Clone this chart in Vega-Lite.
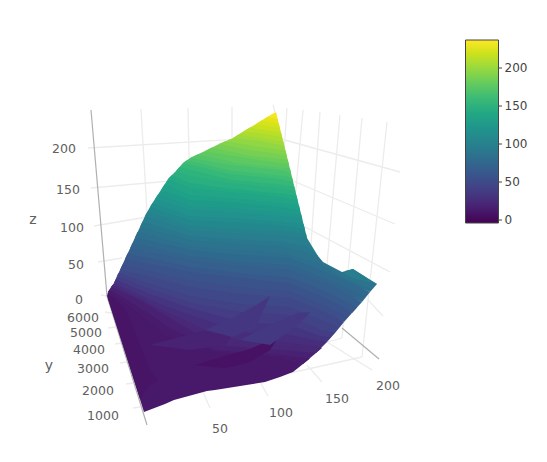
{"$schema":"https://vega.github.io/schema/vega-lite/v6.json","autosize":{"type":"fit","contains":"padding"},"width":547,"height":462,"padding":0,"background":"white","config":{"view":{"stroke":null}},
"encoding":{"x":{"field":"u","type":"quantitative","scale":{"domain":[0,547],"nice":false,"zero":false},"axis":null},"y":{"field":"v","type":"quantitative","scale":{"domain":[0,462],"nice":false,"zero":false,"reverse":true},"axis":null}},
"layer":[
{"data":{"values":[
{"u":88,"v":148,"u2":274,"v2":137},{"u":91,"v":188,"u2":272,"v2":172},{"u":94,"v":226,"u2":147,"v2":217},{"u":98,"v":262,"u2":122,"v2":258},{"u":101,"v":295,"u2":107,"v2":296},
{"u":274,"v":137,"u2":400,"v2":172},{"u":272,"v":172,"u2":395,"v2":224},{"u":290,"v":219,"u2":390,"v2":272},
{"u":141,"v":109,"u2":147,"v2":212},{"u":188,"v":108,"u2":189,"v2":158},{"u":232,"v":107,"u2":232,"v2":138},{"u":273,"v":105,"u2":275,"v2":112},
{"u":287,"v":108,"u2":282,"v2":180},{"u":303,"v":110,"u2":295,"v2":200},{"u":320,"v":112,"u2":311,"v2":245},{"u":340,"v":115,"u2":327,"v2":265},{"u":362,"v":118,"u2":342,"v2":338},{"u":387,"v":122,"u2":362,"v2":357},
{"u":342,"v":338,"u2":328,"v2":342},{"u":362,"v":357,"u2":290,"v2":373},
{"u":203,"v":392,"u2":210,"v2":408},{"u":260,"v":382,"u2":268,"v2":396},{"u":307,"v":365,"u2":322,"v2":382},{"u":327,"v":342,"u2":372,"v2":370},{"u":368,"v":300,"u2":383,"v2":316},
{"u":105,"v":312,"u2":112,"v2":313},{"u":108,"v":328,"u2":116,"v2":327},{"u":115,"v":344,"u2":122,"v2":343},{"u":120,"v":363,"u2":127,"v2":362},{"u":126,"v":384,"u2":133,"v2":383},{"u":133,"v":408,"u2":140,"v2":407}
]},"mark":{"type":"rule","color":"#ececec","strokeWidth":1.3},"encoding":{"x2":{"field":"u2"},"y2":{"field":"v2"}}},
{"data":{"values":[
{"u":91,"v":110,"u2":107,"v2":296},{"u":107,"v":296,"u2":147,"v2":425},{"u":342,"v":328,"u2":379,"v2":359}
]},"mark":{"type":"rule","color":"#b0b0b0","strokeWidth":1.2},"encoding":{"x2":{"field":"u2"},"y2":{"field":"v2"}}},
{"data":{"values":[
{"k":1,"z":234,"u":267,"v":117,"b":119},{"k":1,"z":234,"u":276,"v":112,"b":121},{"k":1,"z":234,"u":277.7,"v":119,"b":121},
{"k":2,"z":227.5,"u":256,"v":124,"b":124},{"k":2,"z":227.5,"u":267,"v":117,"b":128},{"k":2,"z":227.5,"u":277.7,"v":119,"b":130},{"k":2,"z":227.5,"u":279.9,"v":128,"b":128},
{"k":102,"z":222.5,"u":256,"v":124,"b":124},{"k":102,"z":222.5,"u":261.5,"v":120.5,"b":126},{"k":102,"z":222.5,"u":272,"v":122.5,"b":129},{"k":102,"z":222.5,"u":278.8,"v":123.5,"b":129},{"k":102,"z":222.5,"u":279.9,"v":128,"b":128},
{"k":3,"z":217.5,"u":244,"v":131,"b":131},{"k":3,"z":217.5,"u":256,"v":124,"b":133},{"k":3,"z":217.5,"u":268,"v":126,"b":135},{"k":3,"z":217.5,"u":279.9,"v":128,"b":138},{"k":3,"z":217.5,"u":282.2,"v":137,"b":137},
{"k":103,"z":212.5,"u":244,"v":131,"b":131},{"k":103,"z":212.5,"u":250,"v":127.5,"b":133},{"k":103,"z":212.5,"u":268,"v":130.5,"b":135},{"k":103,"z":212.5,"u":281,"v":132.5,"b":138},{"k":103,"z":212.5,"u":282.2,"v":137,"b":137},
{"k":4,"z":207.5,"u":233,"v":138,"b":138},{"k":4,"z":207.5,"u":244,"v":131,"b":141},{"k":4,"z":207.5,"u":265,"v":134,"b":144},{"k":4,"z":207.5,"u":282.2,"v":137,"b":148},{"k":4,"z":207.5,"u":284.4,"v":146,"b":146},
{"k":104,"z":202.5,"u":233,"v":138,"b":138},{"k":104,"z":202.5,"u":238.5,"v":134.5,"b":141},{"k":104,"z":202.5,"u":265,"v":139,"b":144},{"k":104,"z":202.5,"u":283.3,"v":141.5,"b":148},{"k":104,"z":202.5,"u":284.4,"v":146,"b":146},
{"k":5,"z":197.5,"u":219,"v":144,"b":144},{"k":5,"z":197.5,"u":233,"v":138,"b":148},{"k":5,"z":197.5,"u":260,"v":141,"b":153},{"k":5,"z":197.5,"u":284.4,"v":146,"b":157},{"k":5,"z":197.5,"u":286.6,"v":155,"b":155},
{"k":105,"z":192.5,"u":219,"v":144,"b":144},{"k":105,"z":192.5,"u":226,"v":141,"b":148},{"k":105,"z":192.5,"u":260,"v":147,"b":153},{"k":105,"z":192.5,"u":285.5,"v":150.5,"b":157},{"k":105,"z":192.5,"u":286.6,"v":155,"b":155},
{"k":6,"z":187.5,"u":205,"v":151,"b":151},{"k":6,"z":187.5,"u":219,"v":144,"b":155},{"k":6,"z":187.5,"u":250,"v":150,"b":161},{"k":6,"z":187.5,"u":286.6,"v":155,"b":166},{"k":6,"z":187.5,"u":288.8,"v":164,"b":164},
{"k":106,"z":182.5,"u":205,"v":151,"b":151},{"k":106,"z":182.5,"u":212,"v":147.5,"b":155},{"k":106,"z":182.5,"u":250,"v":155.5,"b":161},{"k":106,"z":182.5,"u":287.7,"v":159.5,"b":166},{"k":106,"z":182.5,"u":288.8,"v":164,"b":164},
{"k":7,"z":177.5,"u":190,"v":158,"b":158},{"k":7,"z":177.5,"u":205,"v":151,"b":163},{"k":7,"z":177.5,"u":240,"v":157,"b":170},{"k":7,"z":177.5,"u":280,"v":163,"b":172},{"k":7,"z":177.5,"u":288.8,"v":164,"b":175},{"k":7,"z":177.5,"u":291,"v":173,"b":173},
{"k":107,"z":172.5,"u":190,"v":158,"b":158},{"k":107,"z":172.5,"u":197.5,"v":154.5,"b":163},{"k":107,"z":172.5,"u":240,"v":163.5,"b":170},{"k":107,"z":172.5,"u":280,"v":167.5,"b":172},{"k":107,"z":172.5,"u":290,"v":168.5,"b":175},{"k":107,"z":172.5,"u":291,"v":173,"b":173},
{"k":8,"z":167.5,"u":183,"v":163,"b":163},{"k":8,"z":167.5,"u":190,"v":158,"b":167},{"k":8,"z":167.5,"u":230,"v":165,"b":176},{"k":8,"z":167.5,"u":280,"v":170,"b":181},{"k":8,"z":167.5,"u":291,"v":173,"b":184},{"k":8,"z":167.5,"u":293.2,"v":182,"b":182},
{"k":108,"z":162.5,"u":183,"v":163,"b":163},{"k":108,"z":162.5,"u":186.5,"v":160.5,"b":167},{"k":108,"z":162.5,"u":230,"v":170.5,"b":176},{"k":108,"z":162.5,"u":280,"v":175.5,"b":181},{"k":108,"z":162.5,"u":292,"v":177.5,"b":184},{"k":108,"z":162.5,"u":293.2,"v":182,"b":182},
{"k":9,"z":157.5,"u":176,"v":171,"b":171},{"k":9,"z":157.5,"u":183,"v":163,"b":175},{"k":9,"z":157.5,"u":230,"v":174,"b":185},{"k":9,"z":157.5,"u":280,"v":179,"b":190},{"k":9,"z":157.5,"u":293.2,"v":182,"b":193},{"k":9,"z":157.5,"u":295.4,"v":191,"b":191},
{"k":109,"z":152.5,"u":176,"v":171,"b":171},{"k":109,"z":152.5,"u":179.5,"v":167,"b":175},{"k":109,"z":152.5,"u":230,"v":179.5,"b":185},{"k":109,"z":152.5,"u":280,"v":184.5,"b":190},{"k":109,"z":152.5,"u":294.3,"v":186.5,"b":193},{"k":109,"z":152.5,"u":295.4,"v":191,"b":191},
{"k":10,"z":147.5,"u":168,"v":179,"b":179},{"k":10,"z":147.5,"u":176,"v":171,"b":182},{"k":10,"z":147.5,"u":190,"v":176,"b":190},{"k":10,"z":147.5,"u":230,"v":183,"b":194},{"k":10,"z":147.5,"u":280,"v":188,"b":199},{"k":10,"z":147.5,"u":295.4,"v":191,"b":202},{"k":10,"z":147.5,"u":297.6,"v":200,"b":200},
{"k":110,"z":142.5,"u":168,"v":179,"b":179},{"k":110,"z":142.5,"u":172,"v":175,"b":182},{"k":110,"z":142.5,"u":190,"v":183,"b":190},{"k":110,"z":142.5,"u":230,"v":188.5,"b":194},{"k":110,"z":142.5,"u":280,"v":193.5,"b":199},{"k":110,"z":142.5,"u":296.5,"v":195.5,"b":202},{"k":110,"z":142.5,"u":297.6,"v":200,"b":200},
{"k":11,"z":137.5,"u":161,"v":190,"b":190},{"k":11,"z":137.5,"u":168,"v":179,"b":194},{"k":11,"z":137.5,"u":190,"v":188,"b":202},{"k":11,"z":137.5,"u":230,"v":192,"b":204},{"k":11,"z":137.5,"u":280,"v":197,"b":209},{"k":11,"z":137.5,"u":297.6,"v":200,"b":212},{"k":11,"z":137.5,"u":300.1,"v":210,"b":210},
{"k":111,"z":132.5,"u":161,"v":190,"b":190},{"k":111,"z":132.5,"u":164.5,"v":184.5,"b":194},{"k":111,"z":132.5,"u":190,"v":195,"b":202},{"k":111,"z":132.5,"u":230,"v":198,"b":204},{"k":111,"z":132.5,"u":280,"v":203,"b":209},{"k":111,"z":132.5,"u":298.8,"v":205,"b":212},{"k":111,"z":132.5,"u":300.1,"v":210,"b":210},
{"k":12,"z":127.5,"u":155,"v":199,"b":199},{"k":12,"z":127.5,"u":161,"v":190,"b":203},{"k":12,"z":127.5,"u":190,"v":200,"b":212},{"k":12,"z":127.5,"u":230,"v":202,"b":214},{"k":12,"z":127.5,"u":280,"v":207,"b":218},{"k":12,"z":127.5,"u":300.1,"v":210,"b":221},{"k":12,"z":127.5,"u":302.3,"v":219,"b":219},
{"k":112,"z":122.5,"u":155,"v":199,"b":199},{"k":112,"z":122.5,"u":158,"v":194.5,"b":203},{"k":112,"z":122.5,"u":190,"v":206,"b":212},{"k":112,"z":122.5,"u":230,"v":208,"b":214},{"k":112,"z":122.5,"u":280,"v":212.5,"b":218},{"k":112,"z":122.5,"u":301.2,"v":214.5,"b":221},{"k":112,"z":122.5,"u":302.3,"v":219,"b":219},
{"k":13,"z":117.5,"u":150,"v":207,"b":207},{"k":13,"z":117.5,"u":155,"v":199,"b":211},{"k":13,"z":117.5,"u":190,"v":210,"b":222},{"k":13,"z":117.5,"u":230,"v":212,"b":224},{"k":13,"z":117.5,"u":280,"v":216,"b":227},{"k":13,"z":117.5,"u":302.3,"v":219,"b":231},{"k":13,"z":117.5,"u":304.8,"v":229,"b":229},
{"k":113,"z":112.5,"u":150,"v":207,"b":207},{"k":113,"z":112.5,"u":152.5,"v":203,"b":211},{"k":113,"z":112.5,"u":190,"v":216,"b":222},{"k":113,"z":112.5,"u":230,"v":218,"b":224},{"k":113,"z":112.5,"u":280,"v":221.5,"b":227},{"k":113,"z":112.5,"u":303.5,"v":224,"b":231},{"k":113,"z":112.5,"u":304.8,"v":229,"b":229},
{"k":14,"z":107.5,"u":145,"v":216,"b":216},{"k":14,"z":107.5,"u":150,"v":207,"b":220},{"k":14,"z":107.5,"u":190,"v":220,"b":232},{"k":14,"z":107.5,"u":230,"v":222,"b":235},{"k":14,"z":107.5,"u":280,"v":225,"b":237},{"k":14,"z":107.5,"u":304.8,"v":229,"b":240},{"k":14,"z":107.5,"u":307,"v":238,"b":238},
{"k":114,"z":102.5,"u":145,"v":216,"b":216},{"k":114,"z":102.5,"u":147.5,"v":211.5,"b":220},{"k":114,"z":102.5,"u":190,"v":226,"b":232},{"k":114,"z":102.5,"u":230,"v":228.5,"b":235},{"k":114,"z":102.5,"u":280,"v":231,"b":237},{"k":114,"z":102.5,"u":306,"v":233.5,"b":240},{"k":114,"z":102.5,"u":307,"v":238,"b":238},
{"k":15,"z":97.5,"u":140,"v":227,"b":227},{"k":15,"z":97.5,"u":145,"v":216,"b":230},{"k":15,"z":97.5,"u":190,"v":230,"b":242},{"k":15,"z":97.5,"u":230,"v":233,"b":245},{"k":15,"z":97.5,"u":280,"v":235,"b":248},{"k":15,"z":97.5,"u":307,"v":238,"b":255},{"k":15,"z":97.5,"u":318,"v":256,"b":258},
{"k":115,"z":92.5,"u":140,"v":227,"b":227},{"k":115,"z":92.5,"u":142.5,"v":221.5,"b":230},{"k":115,"z":92.5,"u":190,"v":236,"b":242},{"k":115,"z":92.5,"u":230,"v":239,"b":245},{"k":115,"z":92.5,"u":280,"v":241.5,"b":248},{"k":115,"z":92.5,"u":307,"v":246.5,"b":255},{"k":115,"z":92.5,"u":318,"v":256,"b":258},
{"k":16,"z":87.5,"u":135,"v":237.5,"b":237.5},{"k":16,"z":87.5,"u":140,"v":227,"b":240},{"k":16,"z":87.5,"u":190,"v":240,"b":252},{"k":16,"z":87.5,"u":230,"v":243,"b":256},{"k":16,"z":87.5,"u":280,"v":246,"b":259},{"k":16,"z":87.5,"u":318,"v":256,"b":270},{"k":16,"z":87.5,"u":323,"v":262,"b":272},{"k":16,"z":87.5,"u":342,"v":272,"b":283},{"k":16,"z":87.5,"u":353,"v":269,"b":285},{"k":16,"z":87.5,"u":370,"v":280,"b":292},{"k":16,"z":87.5,"u":377,"v":284,"b":284},
{"k":116,"z":82.5,"u":135,"v":237.5,"b":237.5},{"k":116,"z":82.5,"u":137.5,"v":232,"b":240},{"k":116,"z":82.5,"u":190,"v":246,"b":252},{"k":116,"z":82.5,"u":230,"v":249.5,"b":256},{"k":116,"z":82.5,"u":280,"v":252.5,"b":259},{"k":116,"z":82.5,"u":318,"v":263,"b":270},{"k":116,"z":82.5,"u":342,"v":277.5,"b":283},{"k":116,"z":82.5,"u":372,"v":290,"b":290},
{"k":17,"z":98,"u":345,"v":271,"b":274},{"k":17,"z":98,"u":353,"v":269,"b":278},{"k":17,"z":98,"u":377,"v":284,"b":284},
{"k":18,"z":77.5,"u":130,"v":248.5,"b":248.5},{"k":18,"z":77.5,"u":135,"v":237.5,"b":251},{"k":18,"z":77.5,"u":190,"v":250,"b":262},{"k":18,"z":77.5,"u":240,"v":255,"b":268},{"k":18,"z":77.5,"u":290,"v":258,"b":272},{"k":18,"z":77.5,"u":320,"v":270,"b":283},{"k":18,"z":77.5,"u":350,"v":282,"b":297},{"k":18,"z":77.5,"u":362,"v":288,"b":302},{"k":18,"z":77.5,"u":370,"v":292,"b":292},
{"k":118,"z":72.5,"u":130,"v":248.5,"b":248.5},{"k":118,"z":72.5,"u":132.5,"v":243,"b":251},{"k":118,"z":72.5,"u":190,"v":256,"b":262},{"k":118,"z":72.5,"u":240,"v":261.5,"b":268},{"k":118,"z":72.5,"u":290,"v":265,"b":272},{"k":118,"z":72.5,"u":320,"v":276.5,"b":283},{"k":118,"z":72.5,"u":350,"v":289.5,"b":297},{"k":118,"z":72.5,"u":366,"v":297,"b":297},
{"k":19,"z":67.5,"u":125,"v":259,"b":259},{"k":19,"z":67.5,"u":130,"v":248.5,"b":262},{"k":19,"z":67.5,"u":190,"v":260,"b":274},{"k":19,"z":67.5,"u":240,"v":266,"b":280},{"k":19,"z":67.5,"u":290,"v":270,"b":285},{"k":19,"z":67.5,"u":330,"v":285,"b":302},{"k":19,"z":67.5,"u":352,"v":296.7,"b":313},{"k":19,"z":67.5,"u":362,"v":302,"b":302},
{"k":119,"z":62.5,"u":125,"v":259,"b":259},{"k":119,"z":62.5,"u":127.5,"v":253.5,"b":262},{"k":119,"z":62.5,"u":190,"v":267,"b":274},{"k":119,"z":62.5,"u":240,"v":273,"b":280},{"k":119,"z":62.5,"u":290,"v":277.5,"b":285},{"k":119,"z":62.5,"u":330,"v":293.5,"b":302},{"k":119,"z":62.5,"u":352,"v":305,"b":313},{"k":119,"z":62.5,"u":357,"v":307.5,"b":307.5},
{"k":20,"z":57.5,"u":120,"v":270,"b":270},{"k":20,"z":57.5,"u":125,"v":259,"b":273},{"k":20,"z":57.5,"u":190,"v":272,"b":289},{"k":20,"z":57.5,"u":240,"v":278,"b":296},{"k":20,"z":57.5,"u":290,"v":283,"b":300},{"k":20,"z":57.5,"u":330,"v":300,"b":317},{"k":20,"z":57.5,"u":344,"v":308,"b":322},{"k":20,"z":57.5,"u":352,"v":313,"b":313},
{"k":120,"z":52.5,"u":120,"v":270,"b":270},{"k":120,"z":52.5,"u":122.5,"v":264.5,"b":273},{"k":120,"z":52.5,"u":190,"v":280.5,"b":289},{"k":120,"z":52.5,"u":240,"v":287,"b":296},{"k":120,"z":52.5,"u":290,"v":291.5,"b":300},{"k":120,"z":52.5,"u":330,"v":308.5,"b":317},{"k":120,"z":52.5,"u":348,"v":317.5,"b":317.5},
{"k":21,"z":47.5,"u":117,"v":276,"b":276},{"k":21,"z":47.5,"u":120,"v":270,"b":278},{"k":21,"z":47.5,"u":150,"v":277,"b":292},{"k":21,"z":47.5,"u":190,"v":287,"b":306},{"k":21,"z":47.5,"u":240,"v":294,"b":315},{"k":21,"z":47.5,"u":290,"v":298,"b":318},{"k":21,"z":47.5,"u":320,"v":310,"b":333},{"k":21,"z":47.5,"u":330,"v":315,"b":333},{"k":21,"z":47.5,"u":335,"v":317,"b":333},{"k":21,"z":47.5,"u":344,"v":322,"b":322},
{"k":121,"z":42.5,"u":117,"v":276,"b":276},{"k":121,"z":42.5,"u":118.5,"v":273,"b":278},{"k":121,"z":42.5,"u":150,"v":284,"b":292},{"k":121,"z":42.5,"u":190,"v":296,"b":306},{"k":121,"z":42.5,"u":240,"v":304,"b":315},{"k":121,"z":42.5,"u":290,"v":307,"b":318},{"k":121,"z":42.5,"u":320,"v":320,"b":333},{"k":121,"z":42.5,"u":339,"v":327.5,"b":327.5},
{"k":22,"z":37.5,"u":114,"v":283,"b":283},{"k":22,"z":37.5,"u":117,"v":276,"b":285},{"k":22,"z":37.5,"u":150,"v":289,"b":302},{"k":22,"z":37.5,"u":190,"v":303,"b":318},{"k":22,"z":37.5,"u":240,"v":312,"b":335},{"k":22,"z":37.5,"u":290,"v":315,"b":338},{"k":22,"z":37.5,"u":320,"v":330,"b":344},{"k":22,"z":37.5,"u":327,"v":331,"b":342},{"k":22,"z":37.5,"u":335,"v":333,"b":333},
{"k":122,"z":32.5,"u":114,"v":283,"b":283},{"k":122,"z":32.5,"u":115.5,"v":279.5,"b":285},{"k":122,"z":32.5,"u":150,"v":294,"b":302},{"k":122,"z":32.5,"u":190,"v":308,"b":318},{"k":122,"z":32.5,"u":240,"v":322,"b":335},{"k":122,"z":32.5,"u":290,"v":325,"b":338},{"k":122,"z":32.5,"u":320,"v":336,"b":344},{"k":122,"z":32.5,"u":331,"v":337.5,"b":337.5},
{"k":23,"z":27.5,"u":111,"v":287,"b":287},{"k":23,"z":27.5,"u":114,"v":283,"b":289},{"k":23,"z":27.5,"u":140,"v":295,"b":303},{"k":23,"z":27.5,"u":160,"v":304,"b":316},{"k":23,"z":27.5,"u":200,"v":318,"b":340},{"k":23,"z":27.5,"u":215,"v":323,"b":349},{"k":23,"z":27.5,"u":240,"v":332,"b":351},{"k":23,"z":27.5,"u":290,"v":335,"b":354},{"k":23,"z":27.5,"u":316,"v":340,"b":353},{"k":23,"z":27.5,"u":327,"v":342,"b":342},
{"k":123,"z":22.5,"u":111,"v":287,"b":287},{"k":123,"z":22.5,"u":112.5,"v":285,"b":289},{"k":123,"z":22.5,"u":140,"v":298,"b":303},{"k":123,"z":22.5,"u":160,"v":309,"b":316},{"k":123,"z":22.5,"u":200,"v":327,"b":340},{"k":123,"z":22.5,"u":215,"v":335,"b":349},{"k":123,"z":22.5,"u":240,"v":340,"b":351},{"k":123,"z":22.5,"u":290,"v":343,"b":354},{"k":123,"z":22.5,"u":316,"v":346,"b":353},{"k":123,"z":22.5,"u":322,"v":348,"b":348},
{"k":24,"z":17.5,"u":108,"v":292,"b":292},{"k":24,"z":17.5,"u":111,"v":287,"b":294},{"k":24,"z":17.5,"u":140,"v":300,"b":319},{"k":24,"z":17.5,"u":170,"v":318,"b":341},{"k":24,"z":17.5,"u":215,"v":345,"b":356},{"k":24,"z":17.5,"u":280,"v":350,"b":362},{"k":24,"z":17.5,"u":303,"v":352,"b":364},{"k":24,"z":17.5,"u":316,"v":353,"b":353},
{"k":124,"z":12.5,"u":108,"v":292,"b":292},{"k":124,"z":12.5,"u":109.5,"v":289.5,"b":294},{"k":124,"z":12.5,"u":140,"v":308,"b":319},{"k":124,"z":12.5,"u":170,"v":328,"b":341},{"k":124,"z":12.5,"u":215,"v":350,"b":356},{"k":124,"z":12.5,"u":280,"v":355,"b":362},{"k":124,"z":12.5,"u":303,"v":358,"b":364},{"k":124,"z":12.5,"u":310,"v":358.5,"b":358.5},
{"k":25,"z":11,"u":107,"v":296,"b":296},{"k":25,"z":11,"u":108,"v":292,"b":299},{"k":25,"z":11,"u":125,"v":303,"b":352},{"k":25,"z":11,"u":144,"v":318,"b":412},{"k":25,"z":11,"u":165,"v":335,"b":404},{"k":25,"z":11,"u":174,"v":338,"b":400},{"k":25,"z":11,"u":207,"v":349,"b":391},{"k":25,"z":11,"u":215,"v":352,"b":390},{"k":25,"z":11,"u":265,"v":356,"b":382},{"k":25,"z":11,"u":280,"v":358,"b":377},{"k":25,"z":11,"u":293,"v":362,"b":372},{"k":25,"z":11,"u":303,"v":364,"b":364},
{"k":26,"z":8,"u":108,"v":294,"b":299},{"k":26,"z":8,"u":125,"v":308,"b":352},{"k":26,"z":8,"u":140,"v":345,"b":399},{"k":26,"z":8,"u":150,"v":370,"b":385},{"k":26,"z":8,"u":158,"v":380,"b":380},
{"k":27,"z":6,"u":195,"v":365,"b":365},{"k":27,"z":6,"u":225,"v":356,"b":368},{"k":27,"z":6,"u":250,"v":349,"b":362},{"k":27,"z":6,"u":270,"v":340,"b":350},{"k":27,"z":6,"u":282,"v":332,"b":332},
{"k":31,"z":35,"u":240,"v":340,"b":340},{"k":31,"z":35,"u":270,"v":325,"b":345},{"k":31,"z":35,"u":298,"v":313,"b":325},{"k":31,"z":35,"u":310,"v":312,"b":312},
{"k":28,"z":18,"u":150,"v":345,"b":345},{"k":28,"z":18,"u":190,"v":334,"b":350},{"k":28,"z":18,"u":225,"v":326,"b":345},{"k":28,"z":18,"u":240,"v":326,"b":326},
{"k":29,"z":33,"u":205,"v":330,"b":330},{"k":29,"z":33,"u":232,"v":318,"b":337},{"k":29,"z":33,"u":255,"v":306,"b":328},{"k":29,"z":33,"u":270,"v":296,"b":296}
]},"mark":{"type":"area","orient":"vertical"},"encoding":{"y2":{"field":"b"},"detail":{"field":"k","type":"nominal"},"color":{"field":"z","type":"quantitative","scale":{"scheme":"viridis","domain":[-4,237],"nice":false,"zero":false},"legend":{"orient":"none","legendX":465.5,"legendY":40,"title":null,"values":[0,50,100,150,200],"gradientLength":183,"gradientThickness":33,"gradientStrokeColor":"#444444","gradientStrokeWidth":1,"labelFont":"DejaVu Sans","labelFontSize":12,"labelColor":"#444444","labelOffset":6,"tickCount":5}}}},
{"data":{"values":[{"u":499,"v":220,"u2":502,"v2":220},{"u":499,"v":182,"u2":502,"v2":182},{"u":499,"v":144,"u2":502,"v2":144},{"u":499,"v":106,"u2":502,"v2":106},{"u":499,"v":68,"u2":502,"v2":68}]},"mark":{"type":"rule","color":"#444444","strokeWidth":1},"encoding":{"x2":{"field":"u2"},"y2":{"field":"v2"}}},
{"data":{"values":[
{"u":64,"v":149,"t":"200"},{"u":68,"v":190,"t":"150"},{"u":72,"v":228,"t":"100"},{"u":76,"v":265,"t":"50"},{"u":79,"v":300,"t":"0"},
{"u":83,"v":318,"t":"6000"},{"u":86,"v":333,"t":"5000"},{"u":89,"v":350,"t":"4000"},{"u":93,"v":369,"t":"3000"},{"u":98,"v":391,"t":"2000"},{"u":103,"v":416,"t":"1000"},
{"u":220,"v":429,"t":"50"},{"u":281,"v":413,"t":"100"},{"u":337,"v":399,"t":"150"},{"u":388,"v":386,"t":"200"}
]},"mark":{"type":"text","font":"DejaVu Sans","fontSize":12.5,"color":"#606060","align":"center","baseline":"middle"},"encoding":{"text":{"field":"t"}}},
{"data":{"values":[{"u":33,"v":220,"t":"z"},{"u":49,"v":366,"t":"y"}]},"mark":{"type":"text","font":"DejaVu Sans","fontSize":14,"color":"#606060","align":"center","baseline":"middle"},"encoding":{"text":{"field":"t"}}}
]}
